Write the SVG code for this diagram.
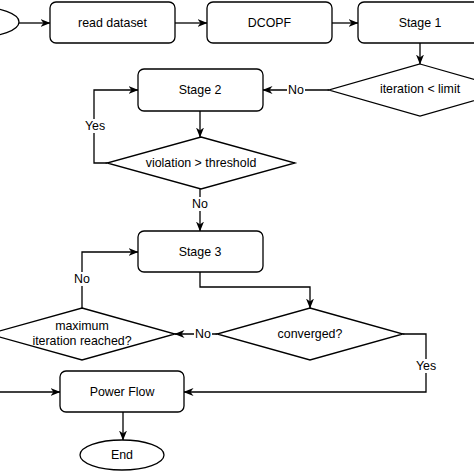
<svg xmlns="http://www.w3.org/2000/svg" width="474" height="474" viewBox="0 0 474 474">
<defs>
<marker id="arr" viewBox="0 0 10 8" refX="9.5" refY="4" markerWidth="10" markerHeight="8" markerUnits="userSpaceOnUse" orient="auto">
<path d="M0,0 L10,4 L0,8 L3,4 Z" fill="#000"/>
</marker>
</defs>
<style>
.shape{fill:#fff;stroke:#000;stroke-width:1.3}
.edge{fill:none;stroke:#000;stroke-width:1.3;marker-end:url(#arr)}
text{font-family:"Liberation Sans",Arial,sans-serif;font-size:12.4px;fill:#000;text-anchor:middle;dominant-baseline:central}
.lbl{fill:#fff;stroke:none}
</style>
<rect width="474" height="474" fill="#fff"/>
<g id="connectors">
<path class="edge" d="M19,23 L50,23"/>
<path class="edge" d="M175,23 L207,23"/>
<path class="edge" d="M332,23 L358,23"/>
<path class="edge" d="M420,43 L420,64"/>
<path class="edge" d="M329,90 L263,90"/>
<path class="edge" d="M200,111 L200,137"/>
<path class="edge" d="M107,163 L94,163 L94,90 L138,90"/>
<path class="edge" d="M200,189 L200,231"/>
<path class="edge" d="M200,272 L200,287 L310,287 L310,308"/>
<path class="edge" d="M217,334 L175,334"/>
<path class="edge" d="M82,308 L82,252 L138,252"/>
<path class="edge" d="M403,334 L426,334 L426,392 L184,392"/>
<path class="edge" d="M0,392 L60,392"/>
<path class="edge" d="M123,412 L123,440"/>
<rect class="lbl" x="287" y="83" width="18" height="14"/>
<text x="296" y="90">No</text>
<rect class="lbl" x="84" y="119" width="22" height="14"/>
<text x="95" y="126">Yes</text>
<rect class="lbl" x="191" y="197" width="18" height="14"/>
<text x="200" y="204">No</text>
<rect class="lbl" x="194" y="327" width="18" height="14"/>
<text x="203" y="334">No</text>
<rect class="lbl" x="73" y="272" width="18" height="14"/>
<text x="82" y="279">No</text>
<rect class="lbl" x="415" y="359" width="22" height="14"/>
<text x="426" y="366">Yes</text>
</g>
<g id="start">
<ellipse class="shape" cx="-23" cy="22" rx="42" ry="15"/>
</g>
<g id="read-dataset">
<rect class="shape" x="50" y="2" width="125" height="41" rx="6"/>
<text x="112.5" y="23">read dataset</text>
</g>
<g id="dcopf">
<rect class="shape" x="207" y="2" width="125" height="41" rx="6"/>
<text x="269.5" y="23">DCOPF</text>
</g>
<g id="stage1">
<rect class="shape" x="358" y="2" width="125" height="41" rx="6"/>
<text x="420" y="23">Stage 1</text>
</g>
<g id="iteration-limit">
<polygon class="shape" points="420,64 511,90 420,116 329,90"/>
<text x="420" y="89">iteration &lt; limit</text>
</g>
<g id="stage2">
<rect class="shape" x="138" y="69" width="125" height="42" rx="6"/>
<text x="200" y="90">Stage 2</text>
</g>
<g id="violation">
<polygon class="shape" points="201,137 295,163 201,189 107,163"/>
<text x="201" y="163">violation &gt; threshold</text>
</g>
<g id="stage3">
<rect class="shape" x="138" y="231" width="125" height="41" rx="6"/>
<text x="200" y="252">Stage 3</text>
</g>
<g id="converged">
<polygon class="shape" points="310,308 403,334 310,360 217,334"/>
<text x="310" y="334">converged?</text>
</g>
<g id="max-iteration">
<polygon class="shape" points="82,308 175,334 82,360 -11,334"/>
<text x="82" y="326">maximum</text>
<text x="82" y="341">iteration reached?</text>
</g>
<g id="power-flow">
<rect class="shape" x="60" y="371" width="124" height="41" rx="6"/>
<text x="122" y="392">Power Flow</text>
</g>
<g id="end">
<ellipse class="shape" cx="122" cy="455" rx="42" ry="15"/>
<text x="122" y="455">End</text>
</g>
</svg>
